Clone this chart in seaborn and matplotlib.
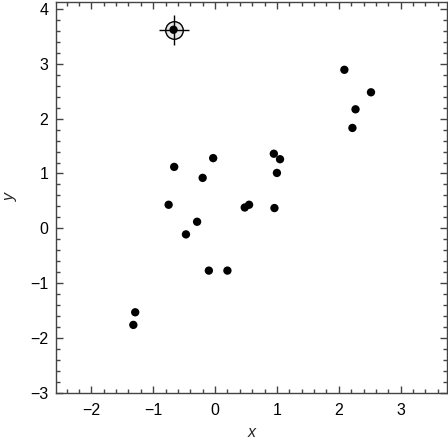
import matplotlib
matplotlib.use('Agg')
import matplotlib.pyplot as plt
import seaborn as sns
import numpy as np
import pandas as pd
from matplotlib.ticker import MultipleLocator

# data
x_vals = [-0.66, -0.03, -0.20, -0.75, -0.29, -0.47, -0.10, 0.20, -1.29, -1.32,
          2.09, 2.52, 2.27, 2.22, 0.95, 1.05, 1.00, 0.48, 0.55, 0.96]
y_vals = [1.12, 1.28, 0.92, 0.43, 0.12, -0.11, -0.77, -0.77, -1.53, -1.76,
          2.89, 2.48, 2.17, 1.83, 1.36, 1.26, 1.01, 0.38, 0.43, 0.37]
# highlighted point
hx = [-0.67]
hy = [3.62]

df = pd.DataFrame({'x': x_vals, 'y': y_vals})

sns.set_style('ticks')
plt.rcParams['font.family'] = ['Liberation Sans', 'DejaVu Sans']

fig = plt.figure(figsize=(4.48, 4.42), dpi=100)
ax = fig.add_axes([0.125, 0.111, 0.873, 0.885])

sns.scatterplot(data=df, x='x', y='y', color='black', s=36, edgecolor='none', ax=ax, zorder=3)

# circled point with cross
ax.scatter(hx, hy, s=160, facecolor='#e6e6e6', edgecolor='black', linewidth=1.0, zorder=2)
ax.plot(hx, hy, marker='+', markersize=21, markeredgewidth=1.0, color='black', zorder=4)
ax.scatter(hx, hy, s=36, color='black', edgecolor='none', zorder=5)

ax.set_xlim(-2.57, 3.75)
ax.set_ylim(-3, 4.13)
ax.xaxis.set_major_locator(MultipleLocator(1))
ax.xaxis.set_minor_locator(MultipleLocator(0.2))
ax.yaxis.set_major_locator(MultipleLocator(1))
ax.yaxis.set_minor_locator(MultipleLocator(0.2))

ax.tick_params(which='both', direction='in', top=True, right=True, color='#444444',
               labelsize=11.5, labelcolor='black')
ax.tick_params(which='major', length=5, width=1)
ax.tick_params(which='minor', length=3, width=1)
ax.tick_params(axis='x', which='major', pad=7.5)
ax.tick_params(axis='y', which='major', pad=5.5)
for sp in ax.spines.values():
    sp.set_color('#444444')
    sp.set_linewidth(1)

ax.set_xlabel('x', style='italic', fontsize=11.5, labelpad=5)
ax.set_ylabel('y', style='italic', fontsize=11.5)
ax.yaxis.set_label_coords(-0.097, 0.5)

fig.savefig('out.png', dpi=100)
